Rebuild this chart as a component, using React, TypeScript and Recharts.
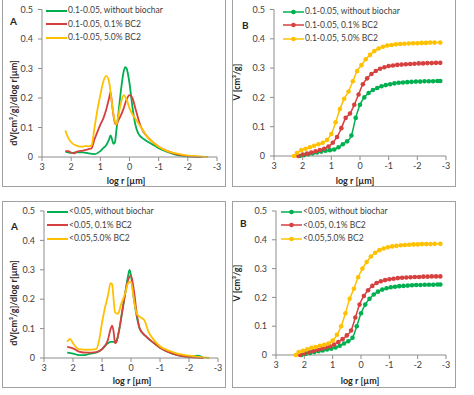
import { LineChart, Line, XAxis, YAxis, Legend } from 'recharts';

// top row, fraction 0.1-0.05 (A: distribution, B: cumulative)
const TOP_A_GREEN_X = [2.2, 2.0, 1.8, 1.6, 1.4, 1.2, 1.0, 0.9, 0.8, 0.7, 0.65, 0.6, 0.55, 0.5, 0.45, 0.4, 0.3, 0.2, 0.15, 0.1, 0.0, -0.1, -0.2, -0.3, -0.5, -0.8, -1.0, -1.3, -1.6, -2.0, -2.5];
const TOP_A_GREEN_Y = [0.018, 0.014, 0.016, 0.016, 0.012, 0.01, 0.02, 0.03, 0.04, 0.06, 0.073, 0.06, 0.045, 0.05, 0.09, 0.13, 0.22, 0.29, 0.305, 0.3, 0.25, 0.17, 0.11, 0.08, 0.06, 0.042, 0.03, 0.017, 0.007, 0.002, 0];
const TOP_A_RED_X = [2.2, 2.1, 2.0, 1.9, 1.8, 1.6, 1.4, 1.3, 1.2, 1.1, 1.0, 0.9, 0.8, 0.7, 0.65, 0.6, 0.5, 0.45, 0.4, 0.3, 0.2, 0.1, 0.0, -0.1, -0.2, -0.3, -0.4, -0.6, -0.8, -1.0, -1.3, -1.6, -2.0, -2.5];
const TOP_A_RED_Y = [0.02, 0.02, 0.015, 0.012, 0.018, 0.022, 0.027, 0.03, 0.06, 0.085, 0.11, 0.13, 0.16, 0.2, 0.22, 0.18, 0.115, 0.11, 0.12, 0.14, 0.165, 0.195, 0.21, 0.2, 0.165, 0.13, 0.1, 0.07, 0.05, 0.035, 0.02, 0.01, 0.003, 0];
const TOP_A_YELLOW_X = [2.2, 2.1, 2.0, 1.8, 1.6, 1.5, 1.4, 1.3, 1.2, 1.1, 1.0, 0.9, 0.8, 0.7, 0.6, 0.5, 0.45, 0.4, 0.3, 0.2, 0.1, 0.0, -0.2, -0.4, -0.6, -0.8, -1.0, -1.3, -1.6, -2.0, -2.4, -2.7];
const TOP_A_YELLOW_Y = [0.09, 0.065, 0.05, 0.038, 0.035, 0.038, 0.036, 0.04, 0.1, 0.16, 0.21, 0.255, 0.275, 0.255, 0.18, 0.12, 0.11, 0.13, 0.18, 0.21, 0.195, 0.165, 0.13, 0.1, 0.07, 0.05, 0.035, 0.02, 0.012, 0.005, 0.002, 0];

const TOP_B_GREEN_X = [2.1, 1.95, 1.8, 1.65, 1.5, 1.35, 1.2, 1.05, 0.9, 0.75, 0.6, 0.45, 0.3, 0.15, 0.0, -0.15, -0.3, -0.45, -0.6, -0.75, -0.9, -1.05, -1.2, -1.35, -1.5, -1.65, -1.8, -1.95, -2.1, -2.25, -2.4, -2.55, -2.7, -2.8];
const TOP_B_GREEN_Y = [0, 0.003, 0.006, 0.009, 0.012, 0.015, 0.018, 0.02, 0.022, 0.03, 0.04, 0.05, 0.07, 0.13, 0.175, 0.2, 0.215, 0.225, 0.232, 0.238, 0.242, 0.245, 0.248, 0.25, 0.251, 0.252, 0.253, 0.254, 0.254, 0.255, 0.255, 0.255, 0.256, 0.256];
const TOP_B_RED_X = [2.15, 2.0, 1.85, 1.7, 1.55, 1.4, 1.25, 1.1, 0.95, 0.8, 0.65, 0.5, 0.35, 0.2, 0.05, -0.1, -0.25, -0.4, -0.55, -0.7, -0.85, -1.0, -1.15, -1.3, -1.45, -1.6, -1.75, -1.9, -2.05, -2.2, -2.35, -2.5, -2.65, -2.8];
const TOP_B_RED_Y = [0, 0.005, 0.008, 0.012, 0.016, 0.02, 0.025, 0.032, 0.045, 0.065, 0.095, 0.13, 0.145, 0.175, 0.21, 0.245, 0.265, 0.28, 0.29, 0.298, 0.303, 0.307, 0.309, 0.311, 0.312, 0.313, 0.314, 0.315, 0.316, 0.316, 0.317, 0.317, 0.318, 0.318];
const TOP_B_YELLOW_X = [2.3, 2.2, 2.05, 1.9, 1.75, 1.6, 1.45, 1.3, 1.15, 1.0, 0.85, 0.7, 0.55, 0.4, 0.25, 0.1, -0.05, -0.2, -0.35, -0.5, -0.65, -0.8, -0.95, -1.1, -1.25, -1.4, -1.55, -1.7, -1.85, -2.0, -2.15, -2.3, -2.45, -2.6, -2.8];
const TOP_B_YELLOW_Y = [0, 0.01, 0.02, 0.025, 0.03, 0.035, 0.04, 0.045, 0.055, 0.075, 0.115, 0.16, 0.195, 0.22, 0.255, 0.29, 0.31, 0.33, 0.345, 0.358, 0.367, 0.373, 0.377, 0.379, 0.381, 0.382, 0.383, 0.384, 0.385, 0.385, 0.386, 0.386, 0.387, 0.387, 0.387];

// bottom row, fraction <0.05
const BOT_A_GREEN_X = [2.2, 2.0, 1.8, 1.6, 1.4, 1.2, 1.0, 0.8, 0.7, 0.6, 0.5, 0.4, 0.3, 0.2, 0.1, 0.05, 0.0, -0.1, -0.2, -0.3, -0.5, -0.8, -1.0, -1.3, -1.6, -2.0, -2.2, -2.3, -2.5];
const BOT_A_GREEN_Y = [0.018, 0.015, 0.01, 0.01, 0.015, 0.018, 0.03, 0.05, 0.055, 0.055, 0.06, 0.1, 0.16, 0.22, 0.28, 0.3, 0.28, 0.2, 0.14, 0.1, 0.075, 0.05, 0.035, 0.02, 0.01, 0.004, 0.006, 0.008, 0];
const BOT_A_RED_X = [2.2, 2.0, 1.8, 1.5, 1.2, 1.0, 0.8, 0.7, 0.65, 0.6, 0.55, 0.5, 0.4, 0.3, 0.2, 0.1, 0.0, -0.1, -0.2, -0.3, -0.5, -0.8, -1.0, -1.3, -1.6, -2.0, -2.5];
const BOT_A_RED_Y = [0.038, 0.033, 0.022, 0.018, 0.02, 0.03, 0.06, 0.1, 0.11, 0.09, 0.05, 0.055, 0.1, 0.16, 0.22, 0.265, 0.28, 0.23, 0.15, 0.1, 0.075, 0.05, 0.035, 0.02, 0.01, 0.003, 0];
const BOT_A_YELLOW_X = [2.2, 2.1, 2.0, 1.8, 1.5, 1.2, 1.1, 1.0, 0.9, 0.8, 0.7, 0.65, 0.6, 0.55, 0.45, 0.35, 0.2, 0.1, 0.0, -0.1, -0.2, -0.3, -0.45, -0.6, -0.8, -1.0, -1.3, -1.6, -2.0, -2.5, -2.7];
const BOT_A_YELLOW_Y = [0.055, 0.065, 0.05, 0.03, 0.028, 0.03, 0.06, 0.12, 0.17, 0.21, 0.255, 0.25, 0.2, 0.155, 0.15, 0.18, 0.22, 0.255, 0.26, 0.2, 0.15, 0.14, 0.13, 0.09, 0.06, 0.04, 0.025, 0.015, 0.008, 0.002, 0];

const BOT_B_GREEN_X = [2.1, 1.95, 1.8, 1.65, 1.5, 1.35, 1.2, 1.05, 0.9, 0.75, 0.6, 0.45, 0.3, 0.15, 0.0, -0.15, -0.3, -0.45, -0.6, -0.75, -0.9, -1.05, -1.2, -1.35, -1.5, -1.65, -1.8, -1.95, -2.1, -2.25, -2.4, -2.55, -2.7, -2.8];
const BOT_B_GREEN_Y = [0, 0.004, 0.007, 0.01, 0.013, 0.016, 0.019, 0.022, 0.026, 0.032, 0.04, 0.048, 0.06, 0.1, 0.145, 0.175, 0.195, 0.21, 0.22, 0.227, 0.232, 0.235, 0.237, 0.239, 0.24, 0.241, 0.242, 0.243, 0.243, 0.244, 0.244, 0.244, 0.245, 0.245];
const BOT_B_RED_X = [2.15, 2.0, 1.85, 1.7, 1.55, 1.4, 1.25, 1.1, 0.95, 0.8, 0.65, 0.5, 0.35, 0.2, 0.05, -0.1, -0.25, -0.4, -0.55, -0.7, -0.85, -1.0, -1.15, -1.3, -1.45, -1.6, -1.75, -1.9, -2.05, -2.2, -2.35, -2.5, -2.65, -2.8];
const BOT_B_RED_Y = [0, 0.005, 0.01, 0.014, 0.018, 0.022, 0.026, 0.03, 0.036, 0.045, 0.055, 0.068, 0.085, 0.13, 0.175, 0.205, 0.225, 0.24, 0.25, 0.256, 0.26, 0.263, 0.265, 0.267, 0.268, 0.269, 0.27, 0.271, 0.271, 0.272, 0.272, 0.273, 0.273, 0.273];
const BOT_B_YELLOW_X = [2.3, 2.2, 2.05, 1.9, 1.75, 1.6, 1.45, 1.3, 1.15, 1.0, 0.85, 0.7, 0.55, 0.4, 0.25, 0.1, -0.05, -0.2, -0.35, -0.5, -0.65, -0.8, -0.95, -1.1, -1.25, -1.4, -1.55, -1.7, -1.85, -2.0, -2.15, -2.3, -2.45, -2.6, -2.8];
const BOT_B_YELLOW_Y = [0, 0.01, 0.015, 0.02, 0.025, 0.028, 0.032, 0.035, 0.04, 0.05, 0.07, 0.1, 0.145, 0.195, 0.23, 0.27, 0.3, 0.323, 0.342, 0.355, 0.364, 0.37, 0.374, 0.377, 0.379, 0.381, 0.382, 0.383, 0.384, 0.384, 0.385, 0.385, 0.385, 0.386, 0.386];

const X_TICKS = [3, 2, 1, 0, -1, -2, -3];
const Y_TICKS = [0, 0.1, 0.2, 0.3, 0.4, 0.5];

const TOP_NAMES = ['0.1-0.05, without biochar', '0.1-0.05, 0.1% BC2', '0.1-0.05, 5.0% BC2'];
const BOT_NAMES = ['<0.05, without biochar', '<0.05, 0.1% BC2', '<0.05,5.0% BC2'];

const COLORS = ['#00b050', '#d6403f', '#ffc000'];
const FONT = 'Lato, "Open Sans", sans-serif';
const AXIS = '#8c8c8c';
const TEXT = '#404040';

const zip = (xs: number[], ys: number[]) => xs.map((x, i) => ({ x, y: ys[i] }));

function Title({ tx, ty, text, rotate }: { tx: number; ty: number; text: string; rotate?: boolean }) {
  return (
    <text
      x={tx}
      y={ty}
      textAnchor="middle"
      dominantBaseline="central"
      transform={rotate ? `rotate(-90 ${tx} ${ty})` : undefined}
      fontFamily={FONT}
      fontSize={9}
      fontWeight={700}
      fill="#262626"
    >
      {text}
    </text>
  );
}

function LegendBox({ names, dots }: { names: string[]; dots: boolean }) {
  return (
    <div style={{ fontFamily: FONT, fontSize: 8.5, color: TEXT, lineHeight: '13.5px' }}>
      {names.map((n, i) => (
        <div key={n} style={{ display: 'flex', alignItems: 'center', whiteSpace: 'nowrap' }}>
          <svg width={21} height={8} style={{ marginRight: 1 }}>
            <line x1={0} y1={4} x2={21} y2={4} stroke={COLORS[i]} strokeWidth={dots ? 1.5 : 2} />
            {dots && <circle cx={10.5} cy={4} r={2.3} fill={COLORS[i]} />}
          </svg>
          <span>{n}</span>
        </div>
      ))}
    </div>
  );
}

interface PanelProps {
  left: number;
  top: number;
  series: { x: number; y: number }[][];
  names: string[];
  dots: boolean;
  margin: { top: number; right: number; left: number; bottom: number };
  yWidth: number;
  xHeight: number;
  yTitle: string;
  yTitlePos: [number, number];
  xTitlePos: [number, number];
  legendPos: [number, number];
  letter: string;
  letterPos: [number, number];
}

function Panel(p: PanelProps) {
  return (
    <>
      <div
        style={{
          position: 'absolute',
          left: p.left + 2,
          top: p.top === 0 ? -2 : p.top,
          width: 224,
          height: p.top === 0 ? 189 : 187,
          border: '1.5px solid #a0a0a0',
          boxSizing: 'border-box',
        }}
      />
      <div style={{ position: 'absolute', left: p.left, top: p.top }}>
        <LineChart width={227} height={187} margin={p.margin}>
          <XAxis
            type="number"
            dataKey="x"
            domain={[-3, 3]}
            ticks={X_TICKS}
            reversed
            allowDataOverflow
            height={p.xHeight}
            stroke={AXIS}
            tickSize={4}
            tickMargin={3}
            tick={{ fill: TEXT, fontSize: 9, fontFamily: FONT }}
            label={<Title tx={p.xTitlePos[0]} ty={p.xTitlePos[1]} text="log r [µm]" />}
          />
          <YAxis
            type="number"
            domain={[0, 0.5]}
            ticks={Y_TICKS}
            width={p.yWidth}
            stroke={AXIS}
            tickSize={4}
            tickMargin={5}
            tick={{ fill: TEXT, fontSize: 9, fontFamily: FONT }}
            tickFormatter={(v: number) => (v === 0 ? '0' : v.toFixed(1))}
            label={<Title tx={p.yTitlePos[0]} ty={p.yTitlePos[1]} text={p.yTitle} rotate />}
          />
          <Legend
            layout="horizontal"
            align="center"
            verticalAlign="middle"
            content={() => <LegendBox names={p.names} dots={p.dots} />}
            wrapperStyle={{ left: p.legendPos[0], top: p.legendPos[1], width: 'auto', bottom: 'auto', right: 'auto' }}
          />
          {p.series.map((d, i) => (
            <Line
              key={i}
              data={d}
              dataKey="y"
              type="monotone"
              stroke={COLORS[i]}
              strokeWidth={p.dots ? 1.5 : 1.8}
              dot={p.dots ? { r: 2.3, fill: COLORS[i], stroke: COLORS[i], strokeWidth: 0 } : false}
              activeDot={false}
              isAnimationActive={false}
            />
          ))}
        </LineChart>
      </div>
      <span
        style={{
          position: 'absolute',
          left: p.left + p.letterPos[0],
          top: p.top + p.letterPos[1],
          fontFamily: FONT,
          fontSize: 10,
          fontWeight: 700,
          color: '#262626',
          lineHeight: '10px',
        }}
      >
        {p.letter}
      </span>
    </>
  );
}

export default function App() {
  return (
    <div style={{ position: 'absolute', left: 0, top: 0, width: 474, height: 395, background: '#fff', overflow: 'hidden' }}>
      <Panel
        left={0}
        top={0}
        series={[zip(TOP_A_GREEN_X, TOP_A_GREEN_Y), zip(TOP_A_RED_X, TOP_A_RED_Y), zip(TOP_A_YELLOW_X, TOP_A_YELLOW_Y)]}
        names={TOP_NAMES}
        dots={false}
        margin={{ top: 9.5, right: 10, left: 0, bottom: 0 }}
        yWidth={42}
        xHeight={30}
        yTitle="dV[cm³/g]/dlog r[µm]"
        yTitlePos={[13, 103]}
        xTitlePos={[126, 180]}
        legendPos={[46, 4]}
        letter="A"
        letterPos={[10, 16]}
      />
      <Panel
        left={230}
        top={0}
        series={[zip(TOP_B_GREEN_X, TOP_B_GREEN_Y), zip(TOP_B_RED_X, TOP_B_RED_Y), zip(TOP_B_YELLOW_X, TOP_B_YELLOW_Y)]}
        names={TOP_NAMES}
        dots
        margin={{ top: 9.5, right: 11, left: 0, bottom: 0 }}
        yWidth={44}
        xHeight={31}
        yTitle="V [cm³/g]"
        yTitlePos={[6, 82]}
        xTitlePos={[125, 180]}
        legendPos={[53, 5]}
        letter="B"
        letterPos={[12, 20]}
      />
      <Panel
        left={0}
        top={201}
        series={[zip(BOT_A_GREEN_X, BOT_A_GREEN_Y), zip(BOT_A_RED_X, BOT_A_RED_Y), zip(BOT_A_YELLOW_X, BOT_A_YELLOW_Y)]}
        names={BOT_NAMES}
        dots={false}
        margin={{ top: 10, right: 9, left: 0, bottom: 0 }}
        yWidth={44}
        xHeight={30}
        yTitle="dV[cm³/g]/dlog r[µm]"
        yTitlePos={[13, 102]}
        xTitlePos={[132, 179]}
        legendPos={[47, 4]}
        letter="A"
        letterPos={[11, 20]}
      />
      <Panel
        left={230}
        top={201}
        series={[zip(BOT_B_GREEN_X, BOT_B_GREEN_Y), zip(BOT_B_RED_X, BOT_B_RED_Y), zip(BOT_B_YELLOW_X, BOT_B_YELLOW_Y)]}
        names={BOT_NAMES}
        dots
        margin={{ top: 10, right: 11, left: 0, bottom: 0 }}
        yWidth={46}
        xHeight={33}
        yTitle="V [cm³/g]"
        yTitlePos={[6, 82]}
        xTitlePos={[130, 179]}
        legendPos={[51, 4]}
        letter="B"
        letterPos={[10, 17]}
      />
    </div>
  );
}
